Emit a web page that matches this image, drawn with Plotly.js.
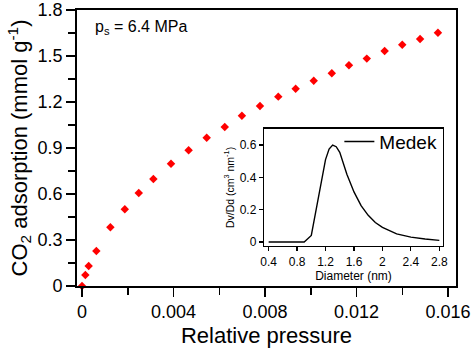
<!DOCTYPE html>
<html>
<head>
<meta charset="utf-8">
<script src="https://cdn.plot.ly/plotly-3.0.1.min.js"></script>
<style>html,body{margin:0;padding:0;background:#fff;}#chart{width:474px;height:350px;}</style>
</head>
<body>
<div id="chart"></div>
<script>
// Main isotherm data
const relativePressure = [0, 0.000145, 0.00029, 0.000626, 0.00124, 0.00187, 0.00248, 0.00312, 0.00389, 0.00466, 0.00545, 0.00624, 0.00699, 0.00778, 0.00858, 0.00934, 0.01013, 0.01092, 0.01167, 0.01245, 0.01323, 0.01400, 0.01478, 0.01556];
const co2Adsorption = [0, 0.072, 0.13, 0.228, 0.383, 0.50, 0.607, 0.698, 0.797, 0.885, 0.967, 1.037, 1.11, 1.174, 1.235, 1.287, 1.339, 1.387, 1.44, 1.483, 1.533, 1.574, 1.611, 1.652];

// Inset pore size distribution
const diameter = [0.4, 0.9, 1.0, 1.1, 1.2, 1.25, 1.3, 1.35, 1.4, 1.5, 1.6, 1.7, 1.8, 1.9, 2.0, 2.2, 2.4, 2.6, 2.8];
const dvdd = [0, 0, 0.04, 0.28, 0.51, 0.575, 0.60, 0.59, 0.555, 0.42, 0.31, 0.225, 0.165, 0.12, 0.09, 0.05, 0.03, 0.018, 0.01];
const insetSeriesName = "Medek";

const mainXTicks = [0, 0.004, 0.008, 0.012, 0.016];
const mainYTicks = [0, 0.3, 0.6, 0.9, 1.2, 1.5, 1.8];
const insetXTicks = [0.4, 0.8, 1.2, 1.6, 2, 2.4, 2.8];
const insetYTicks = [0, 0.2, 0.4, 0.6];

const FONT = "Liberation Sans, Arial, sans-serif";

const traces = [
  {
    x: relativePressure, y: co2Adsorption, type: "scatter", mode: "markers",
    marker: {symbol: "diamond", size: 6.5, color: "#ff0000"},
    showlegend: false, cliponaxis: false, xaxis: "x", yaxis: "y"
  },
  {
    x: diameter, y: dvdd, type: "scatter", mode: "lines", name: insetSeriesName,
    line: {color: "#000", width: 1.4},
    xaxis: "x2", yaxis: "y2", showlegend: true
  }
];

const layout = {
  width: 474, height: 350,
  margin: {l: 77, r: 18, t: 10, b: 64},
  paper_bgcolor: "#fff", plot_bgcolor: "rgba(0,0,0,0)",
  font: {family: FONT, color: "#000"},
  xaxis: {
    domain: [0, 1], range: [-0.00022, 0.01635],
    tickvals: mainXTicks, ticktext: mainXTicks.map(String),
    ticks: "outside", ticklen: 9, tickwidth: 1.5, tickcolor: "#000",
    minor: {dtick: 0.002, tick0: 0, ticks: "outside", ticklen: 7, tickwidth: 1.5, tickcolor: "#000"},
    showline: true, linewidth: 1.8, linecolor: "#000", mirror: true,
    showgrid: false, zeroline: false,
    tickfont: {size: 18, family: FONT},
    title: {text: "Relative pressure", font: {size: 22, family: FONT}, standoff: 6}
  },
  yaxis: {
    domain: [0, 1], range: [0, 1.8],
    tickvals: mainYTicks, ticktext: mainYTicks.map(String),
    ticks: "outside", ticklen: 9, tickwidth: 1.5, tickcolor: "#000",
    minor: {dtick: 0.15, tick0: 0, ticks: "outside", ticklen: 7, tickwidth: 1.5, tickcolor: "#000"},
    showline: true, linewidth: 1.8, linecolor: "#000", mirror: true,
    showgrid: false, zeroline: false,
    tickfont: {size: 18, family: FONT},
    title: {text: "CO<sub>2</sub> adsorption (mmol g<sup>-1</sup>)", font: {size: 22, family: FONT}, standoff: 4}
  },
  xaxis2: {
    domain: [0.494, 0.965], anchor: "y2", range: [0.338, 2.848],
    tickvals: insetXTicks, ticktext: insetXTicks.map(String),
    ticks: "outside", ticklen: 4, tickwidth: 1.2, tickcolor: "#000",
    showline: true, linewidth: 1.5, linecolor: "#000", mirror: true,
    showgrid: false, zeroline: false,
    tickfont: {size: 12, family: FONT},
    title: {text: "Diameter (nm)", font: {size: 12, family: FONT}, standoff: 2}
  },
  yaxis2: {
    domain: [0.145, 0.569], anchor: "x2", range: [-0.025, 0.70],
    tickvals: insetYTicks, ticktext: insetYTicks.map(String),
    ticks: "outside", ticklen: 4, tickwidth: 1.2, tickcolor: "#000",
    showline: true, linewidth: 1.5, linecolor: "#000", mirror: true,
    showgrid: false, zeroline: false,
    tickfont: {size: 12, family: FONT},
    title: {text: "Dv/Dd (cm<sup>3</sup> nm<sup>-1</sup>)", font: {size: 10.5, family: FONT}, standoff: 3}
  },
  showlegend: true,
  legend: {
    x: 0.964, y: 0.592, xanchor: "right", yanchor: "top",
    bgcolor: "rgba(0,0,0,0)", borderwidth: 0,
    font: {size: 19, family: FONT}, itemwidth: 30,
    tracegroupgap: 0
  },
  annotations: [
    {
      xref: "paper", yref: "paper", x: 0.042, y: 0.935, xanchor: "left", yanchor: "middle",
      text: "p<sub>s</sub> = 6.4 MPa", showarrow: false, font: {size: 16, family: FONT}
    }
  ]
};

Plotly.newPlot("chart", traces, layout, {displayModeBar: false, staticPlot: true});
</script>
</body>
</html>
